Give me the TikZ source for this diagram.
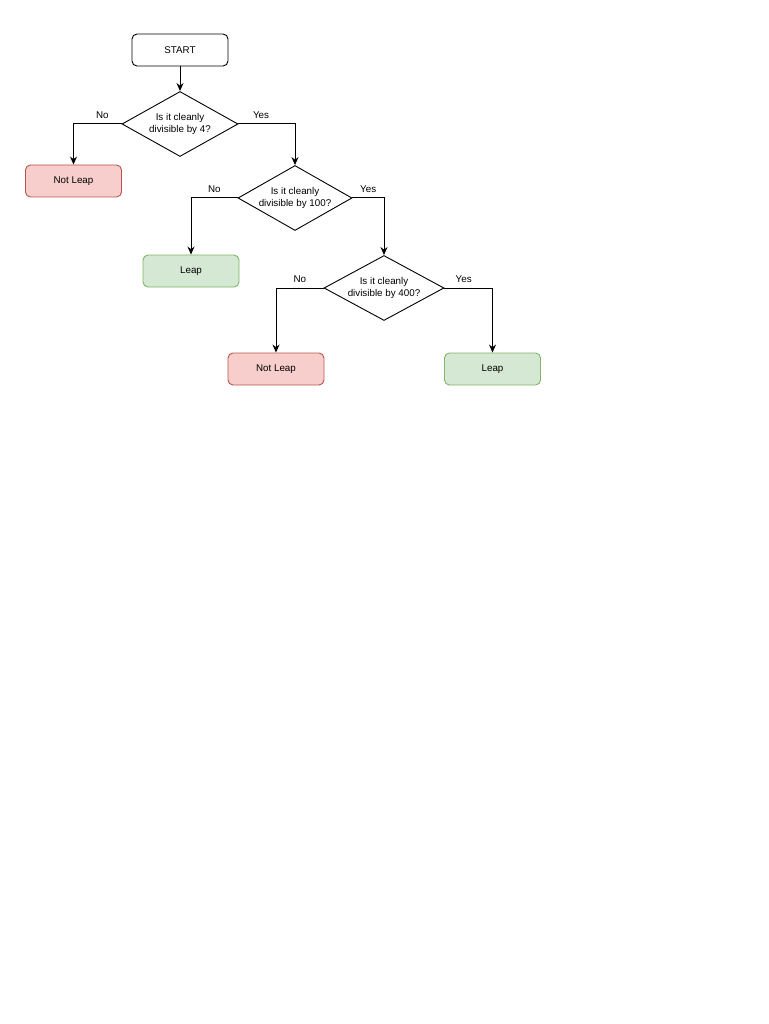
\documentclass[tikz,border=0pt]{standalone}
\usepackage{fontspec}
\setmainfont{Liberation Sans}
\usetikzlibrary{shapes.geometric,arrows.meta}
\definecolor{redfill}{HTML}{F8CECC}
\definecolor{redline}{HTML}{B85450}
\definecolor{greenfill}{HTML}{D5E8D4}
\definecolor{greenline}{HTML}{82B366}
\begin{document}
\begin{tikzpicture}[x=1pt,y=-1pt,font=\fontsize{9.8}{11.5}\selectfont]\tikzset{box/.style = {shape=rectangle, draw, rounded corners=5pt, minimum width=96pt, minimum height=32pt, line width=0.9pt},
	notleap/.style = {box, fill=redfill, draw=redline},
	leap/.style = {box, fill=greenfill, draw=greenline},
	test/.style = {shape=diamond, draw, aspect=1.8, minimum width=116pt, minimum height=65pt, inner sep=0pt, align=center, line width=0.9pt},
	flow/.style = {-{Stealth[length=8pt,width=7pt]}, line width=1pt},
	answer/.style = {above, inner sep=5pt}}

		\useasboundingbox (0,0) rectangle (768,1024);

		\node[box] (S) at (180,50) {START};
		\node[test] (D_1) at (180,124) {Is it cleanly\\divisible by 4?};
		\node[notleap] (N_1) at (73.5,181) {Not Leap};
		\node[test, minimum width=114pt] (D_2) at (295,198) {Is it cleanly\\divisible by 100?};
		\node[leap] (L_1) at (191,271) {Leap};
		\node[test, minimum width=120pt] (D_3) at (384,288) {Is it cleanly\\divisible by 400?};
		\node[notleap] (N_2) at (276,369) {Not Leap};
		\node[leap] (L_2) at (492.5,369) {Leap};

		\draw[flow] (S) -- (D_1);
		\draw[flow] (D_1.west) -| node[answer, pos=0.2] {No} (N_1.north);
		\draw[flow] (D_1.east) -| node[answer, pos=0.2] {Yes} (D_2.north);
		\draw[flow] (D_2.west) -| node[answer, pos=0.25] {No} (L_1.north);
		\draw[flow] (D_2.east) -| node[answer, pos=0.25] {Yes} (D_3.north);
		\draw[flow] (D_3.west) -| node[answer, pos=0.25] {No} (N_2.north);
		\draw[flow] (D_3.east) -| node[answer, pos=0.2] {Yes} (L_2.north);
	\end{tikzpicture}
\end{document}
